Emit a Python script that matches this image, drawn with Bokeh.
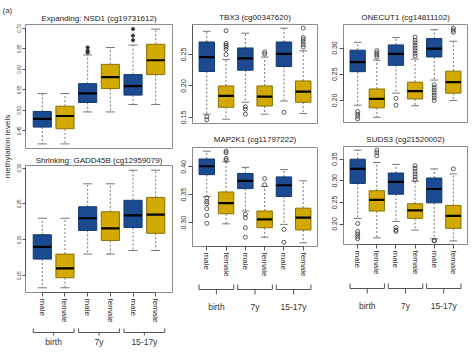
import math
from bokeh.plotting import figure
from bokeh.layouts import row, column
from bokeh.models import Range1d, FixedTicker, NumeralTickFormatter
from bokeh.embed import file_html
from bokeh.resources import INLINE
from bokeh.core.properties import value

# ------------------------------------------------------------------ data
sexes = ["male", "female", "male", "female", "male", "female"]
ages = ["birth", "7y", "15-17y"]

# Expanding: NSD1 (cg19731612)
nsd1_lo = [0.418, 0.418, 0.496, 0.496, 0.514, 0.514]
nsd1_q1 = [0.459, 0.455, 0.519, 0.553, 0.537, 0.587]
nsd1_med = [0.479, 0.486, 0.541, 0.581, 0.559, 0.622]
nsd1_q3 = [0.497, 0.510, 0.565, 0.612, 0.587, 0.661]
nsd1_hi = [0.541, 0.541, 0.635, 0.653, 0.659, 0.698]
nsd1_out = [[], [], [0.653, 0.645, 0.641], [], [0.698, 0.682, 0.671], []]
nsd1_ticks = [0.45, 0.50, 0.55, 0.60, 0.65, 0.70]

# Shrinking: GADD45B (cg12959079)
gadd_lo = [0.133, 0.133, 0.180, 0.180, 0.185, 0.185]
gadd_q1 = [0.173, 0.147, 0.213, 0.199, 0.217, 0.209]
gadd_med = [0.190, 0.160, 0.230, 0.216, 0.234, 0.235]
gadd_q3 = [0.207, 0.180, 0.246, 0.239, 0.255, 0.259]
gadd_hi = [0.230, 0.230, 0.278, 0.278, 0.297, 0.297]
gadd_out = [[], [], [], [], [], []]
gadd_ticks = [0.15, 0.20, 0.25, 0.30]

# TBX3 (cg00347620)
tbx3_lo = [0.155, 0.147, 0.174, 0.155, 0.176, 0.156]
tbx3_q1 = [0.223, 0.166, 0.225, 0.168, 0.231, 0.174]
tbx3_med = [0.246, 0.184, 0.244, 0.183, 0.251, 0.191]
tbx3_q3 = [0.270, 0.200, 0.2605, 0.200, 0.270, 0.208]
tbx3_hi = [0.287, 0.242, 0.284, 0.246, 0.292, 0.256]
tbx3_out = [[0.151, 0.146], [0.288, 0.268, 0.265, 0.262, 0.258, 0.250],
            [0.167, 0.163, 0.155], [0.254, 0.251], [0.158],
            [0.292, 0.277, 0.274, 0.270, 0.266, 0.262]]
tbx3_ticks = [0.15, 0.20, 0.25, 0.30]

# ONECUT1 (cg14811102)
onec_lo = [0.191, 0.168, 0.214, 0.190, 0.239, 0.200]
onec_q1 = [0.255, 0.186, 0.267, 0.203, 0.283, 0.214]
onec_med = [0.273, 0.203, 0.289, 0.218, 0.299, 0.235]
onec_q3 = [0.296, 0.222, 0.306, 0.235, 0.318, 0.256]
onec_hi = [0.311, 0.277, 0.320, 0.279, 0.335, 0.313]
onec_out = [[0.179, 0.174, 0.170, 0.165], [0.295, 0.291, 0.287, 0.283],
            [0.204, 0.191], [0.321, 0.315, 0.310, 0.305, 0.300, 0.295, 0.290, 0.285],
            [0.230, 0.225, 0.220, 0.215, 0.210, 0.205, 0.200], [0.338, 0.334, 0.330]]
onec_ticks = [0.20, 0.25, 0.30]

# MAP2K1 (cg11797222)
map2_lo = [0.347, 0.298, 0.321, 0.274, 0.297, 0.264]
map2_q1 = [0.386, 0.316, 0.361, 0.291, 0.347, 0.287]
map2_med = [0.401, 0.335, 0.375, 0.306, 0.367, 0.309]
map2_q3 = [0.414, 0.355, 0.388, 0.321, 0.382, 0.326]
map2_hi = [0.428, 0.409, 0.399, 0.365, 0.395, 0.375]
map2_out = [[0.344, 0.338, 0.334, 0.325, 0.313, 0.299], [0.428, 0.425, 0.415, 0.412],
            [0.315, 0.309, 0.291, 0.274], [0.379, 0.368], [0.288, 0.265], []]
map2_ticks = [0.30, 0.35, 0.40]

# SUDS3 (cg21520002)
suds_lo = [0.213, 0.168, 0.206, 0.186, 0.166, 0.161]
suds_q1 = [0.294, 0.230, 0.269, 0.213, 0.249, 0.190]
suds_med = [0.3275, 0.256, 0.2975, 0.2315, 0.281, 0.219]
suds_q3 = [0.350, 0.277, 0.318, 0.247, 0.3065, 0.243]
suds_hi = [0.371, 0.3425, 0.338, 0.299, 0.3275, 0.316]
suds_out = [[0.201, 0.183, 0.177, 0.171, 0.166], [0.371, 0.365, 0.358],
            [0.192, 0.186, 0.183], [0.335, 0.329, 0.322, 0.316, 0.309, 0.303],
            [0.162, 0.161], [0.3275]]
suds_ticks = [0.20, 0.25, 0.30, 0.35]

# ------------------------------------------------------------------ style
FONT = "Liberation Sans"
BLUE, GOLD = "#1b4a91", "#d1a900"
FILLS = [BLUE, GOLD] * 3
EDGES = ["#143a72", "#8a7208"] * 3
FRAME = "#8c8c8c"
AXIS = "#555555"
XS = [1, 2, 3, 4, 5, 6]
XR = (0.5 - 0.24, 6.5 + 0.24)


def panel(title, lo, q1, med, q3, hi, outl, yticks, fw, fh, left, right, top,
          bottom, show_x, standoff, tick_font, small=False):
    vals = lo + hi + [v for o in outl for v in o]
    vmin, vmax = min(vals), max(vals)
    pad = 0.04 * (vmax - vmin)
    p = figure(frame_width=fw, frame_height=fh, x_range=Range1d(*XR),
               y_range=Range1d(vmin - pad, vmax + pad), output_backend="svg",
               toolbar_location=None, x_axis_location="below" if show_x else None,
               min_border_left=left, min_border_right=right, min_border_top=top,
               min_border_bottom=bottom, title=title)
    p.grid.visible = False
    p.outline_line_color = FRAME
    p.outline_line_width = 1
    t = p.title
    t.align = "center"
    t.text_font = FONT
    t.text_font_size = "8px"
    t.text_font_style = "normal"
    t.text_color = "#222222"
    t.standoff = standoff

    ya = p.yaxis[0]
    ya.ticker = FixedTicker(ticks=yticks)
    ya.formatter = NumeralTickFormatter(format="0.00")
    ya.bounds = (min(yticks), max(yticks))
    ya.major_label_orientation = "vertical"
    ya.major_label_text_font = FONT
    ya.major_label_text_font_size = tick_font
    ya.major_label_text_color = "#333333"
    ya.minor_tick_line_color = None
    ya.major_tick_in = 0
    ya.major_tick_out = 3 if small else 4
    ya.major_label_standoff = 1 if small else 2
    ya.axis_line_color = AXIS
    ya.major_tick_line_color = AXIS

    if show_x:
        xa = p.xaxis[0]
        xa.ticker = FixedTicker(ticks=XS)
        xa.major_label_overrides = {x: s for x, s in zip(XS, sexes)}
        xa.major_label_orientation = "vertical"
        xa.bounds = (1, 6)
        xa.major_label_text_font = FONT
        xa.major_label_text_font_size = "8px"
        xa.major_label_text_color = "#333333"
        xa.minor_tick_line_color = None
        xa.major_tick_in = 0
        xa.major_tick_out = 4
        xa.major_label_standoff = 2
        xa.axis_line_color = AXIS
        xa.major_tick_line_color = AXIS

    wcol = "#777777"
    p.segment(x0=XS, y0=q3, x1=XS, y1=hi, line_color=wcol, line_dash="2 2", line_width=1)
    p.segment(x0=XS, y0=q1, x1=XS, y1=lo, line_color=wcol, line_dash="2 2", line_width=1)
    p.vbar(x=XS, width=0.8, bottom=q1, top=q3, fill_color=FILLS, line_color=EDGES, line_width=1)
    p.segment(x0=[x - 0.4 for x in XS], x1=[x + 0.4 for x in XS], y0=med, y1=med,
              line_color="black", line_width=2.2)
    p.segment(x0=[x - 0.2 for x in XS], x1=[x + 0.2 for x in XS], y0=hi, y1=hi,
              line_color=wcol, line_width=1)
    p.segment(x0=[x - 0.2 for x in XS], x1=[x + 0.2 for x in XS], y0=lo, y1=lo,
              line_color=wcol, line_width=1)
    ox = [XS[i] for i, o in enumerate(outl) for _ in o]
    oy = [v for o in outl for v in o]
    if ox:
        if small:
            p.scatter(x=ox, y=oy, marker="circle", size=3.5, fill_color="#333333",
                      line_color="#333333", line_width=0.6)
        else:
            p.scatter(x=ox, y=oy, marker="circle", size=4, fill_color=None,
                      line_color="#333333", line_width=0.8)
    return p


def brace(fw, fh, left, right, y_end, y_bar, y_tick, y_lab):
    p = figure(frame_width=fw, frame_height=fh, x_range=Range1d(*XR),
               y_range=Range1d(fh, 0), x_axis_location=None, y_axis_location=None,
               min_border_left=left, min_border_right=right, min_border_top=0,
               min_border_bottom=0, output_backend="svg", toolbar_location=None)
    p.outline_line_color = None
    p.grid.visible = False
    n = len(ages)
    lefts = [XS[2 * i] - 0.4 for i in range(n)]
    rights = [XS[2 * i + 1] + 0.4 for i in range(n)]
    centers = [(XS[2 * i] + XS[2 * i + 1]) / 2 for i in range(n)]
    kw = dict(line_color="#555555", line_width=1)
    p.segment(x0=lefts, y0=[y_bar] * n, x1=rights, y1=[y_bar] * n, **kw)
    p.segment(x0=lefts, y0=[y_end] * n, x1=lefts, y1=[y_bar] * n, **kw)
    p.segment(x0=rights, y0=[y_end] * n, x1=rights, y1=[y_bar] * n, **kw)
    p.segment(x0=centers, y0=[y_bar] * n, x1=centers, y1=[y_tick] * n, **kw)
    p.text(x=centers, y=[y_lab] * n, text=ages, text_align="center",
           text_baseline="middle", text_font=value(FONT), text_font_size="8.5px",
           text_color="#333333")
    return p


# left strip with "(a)" and the shared y label
lab = figure(frame_width=14, frame_height=355, x_range=Range1d(0, 14),
             y_range=Range1d(0, 355), x_axis_location=None, y_axis_location=None,
             min_border_left=0, min_border_right=0, min_border_top=0,
             min_border_bottom=0, output_backend="svg", toolbar_location=None)
lab.outline_line_color = None
lab.grid.visible = False
lab.text(x=[7], y=[209], text=["methylation levels"], angle=math.pi / 2,
         text_align="center", text_baseline="middle", text_font=value(FONT),
         text_font_size="8px", text_color="#333333")
lab.text(x=[2], y=[345], text=["(a)"], text_align="left", text_baseline="middle",
         text_font=value(FONT), text_font_size="8px", text_color="#333333")

pE = panel("Expanding: NSD1 (cg19731612)", nsd1_lo, nsd1_q1, nsd1_med, nsd1_q3,
           nsd1_hi, nsd1_out, nsd1_ticks, 147, 124, 11, 4, 24, 2, False, 4, "4.5px", True)
pS = panel("Shrinking: GADD45B (cg12959079)", gadd_lo, gadd_q1, gadd_med, gadd_q3,
           gadd_hi, gadd_out, gadd_ticks, 147, 127, 11, 4, 15, 32, True, 2, "4.5px", True)
bL = brace(147, 31, 11, 4, 3, 7, 10, 16)

pT = panel("TBX3 (cg00347620)", tbx3_lo, tbx3_q1, tbx3_med, tbx3_q3, tbx3_hi,
           tbx3_out, tbx3_ticks, 125, 99, 16, 9, 24, 2, False, 6, "7px")
pM = panel("MAP2K1 (cg11797222)", map2_lo, map2_q1, map2_med, map2_q3, map2_hi,
           map2_out, map2_ticks, 125, 99, 16, 9, 22, 32, True, 7, "7px")
bM = brace(125, 77, 16, 9, 5, 10, 15, 27)

pO = panel("ONECUT1 (cg14811102)", onec_lo, onec_q1, onec_med, onec_q3, onec_hi,
           onec_out, onec_ticks, 124, 98, 17, 7, 24, 3, False, 6, "7px")
pD = panel("SUDS3 (cg21520002)", suds_lo, suds_q1, suds_med, suds_q3, suds_hi,
           suds_out, suds_ticks, 124, 98, 17, 7, 21, 34, True, 6, "7px")
bR = brace(124, 77, 17, 7, 5, 10, 15, 27)

layout = row(lab, column(pE, pS, bL), column(pT, pM, bM), column(pO, pD, bR))

open("out.html", "w").write(file_html(layout, INLINE))
